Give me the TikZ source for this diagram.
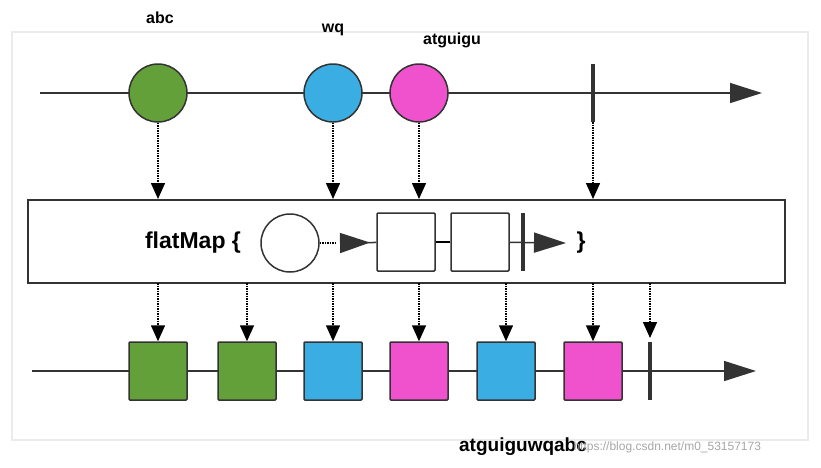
\documentclass[tikz,border=0pt]{standalone}
\usepackage{fontspec}
\setmainfont{Liberation Sans}
\usetikzlibrary{arrows.meta}
\definecolor{mgreen}{RGB}{99,160,57}
\definecolor{mblue}{RGB}{58,174,226}
\definecolor{mpink}{RGB}{240,82,205}
\tikzset{
  ball/.style={circle,draw=black!80,line width=1.5pt,minimum size=58pt,inner sep=0pt},
  item/.style={rectangle,draw=black!80,line width=1.5pt,minimum size=58pt,inner sep=0pt,rounded corners=1pt},
  drop/.style={densely dotted,line width=1.5pt,-{Triangle[length=16pt,width=14pt]}},
  flow/.style={line width=1.5pt,black!80,-{Triangle[length=32pt,width=20pt]}},
  stop/.style={line width=3.5pt,black!80},
  lbl/.style={font=\bfseries\fontsize{16}{18}\selectfont}
}
\begin{document}
\begin{tikzpicture}[x=1pt,y=-1pt]
\useasboundingbox (0,0) rectangle (821,467);
\draw[black!8,line width=2pt] (12,32) rectangle (808,440);
% source line
\coordinate (s0) at (40,93);
\coordinate (s1) at (762,93);
\draw[flow] (s0) -- (s1);
\node[ball,fill=mgreen] (abc) at (158,93) {};
\node[ball,fill=mblue] (wq) at (333,93) {};
\node[ball,fill=mpink] (atg) at (419,93) {};
\coordinate (send) at (593,93);
\draw[stop] (593,64) -- (593,122);
\node[lbl] at (160,18) {abc};
\node[lbl] at (333,30) {wq};
\node[lbl] at (452,40) {atguigu};
% operator box
\node[draw=black!80,line width=1.5pt,minimum width=757pt,minimum height=83pt] (op) at (406.5,241.5) {};
\node[lbl,font=\bfseries\fontsize{23}{26}\selectfont] (fm) at (193,243) {flatMap \{};
\node[ball,fill=white] (inner) at (290,243) {};
\node[item] (q1) at (406,242) {};
\node[item] (q2) at (480,242) {};
\coordinate (iend) at (566,243);
\draw[line width=1.5pt,densely dotted] (inner) -- (335,243);
\draw[line width=1.5pt,black!80,{Triangle[length=30pt,width=20pt,reversed]}-] (340,243) -- (q1);
\draw[line width=1.5pt] (q1) -- (q2);
\draw[flow] (q2) -- (iend);
\draw[stop] (523,213) -- (523,271);
\node[lbl,font=\bfseries\fontsize{23}{26}\selectfont] (br) at (581,243) {\}};
% drops into operator
\foreach \n/\x in {abc/158,wq/333,atg/419}
  \draw[drop] (\n) -- (\x,199);
\draw[drop] (593,122) -- (593,199);
% result line
\coordinate (r0) at (32,371);
\coordinate (r1) at (756,371);
\draw[flow] (r0) -- (r1);
\foreach \i/\x/\c in {1/158/mgreen,2/247/mgreen,3/333/mblue,4/419/mpink,5/506/mblue,6/593/mpink}{
  \node[item,fill=\c] (r\i) at (\x,371) {};
  \draw[drop] (\x,283) -- (r\i);
}
\draw[drop] (650,283) -- (650,338);
\draw[stop] (650,342) -- (650,400);
\node[lbl,font=\bfseries\fontsize{19}{22}\selectfont] (res) at (523,447) {atguiguwqabc};
\node[black!35,font=\fontsize{12}{14}\selectfont,anchor=west] (wm) at (570,447) {https://blog.csdn.net/m0\_53157173};
\end{tikzpicture}
\end{document}
